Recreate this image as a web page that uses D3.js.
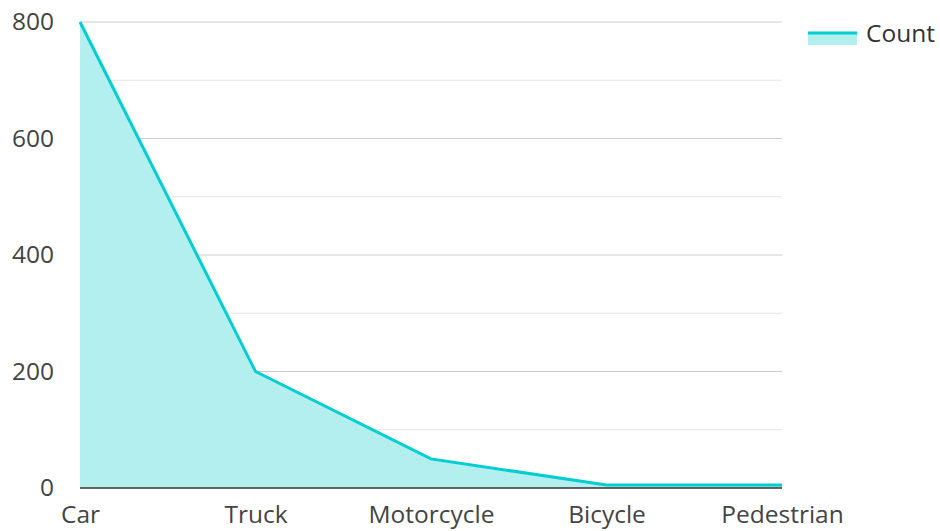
<!DOCTYPE html>
<html>
<head>
<meta charset="utf-8">
<script src="https://cdn.jsdelivr.net/npm/d3@7"></script>
<style>
  body { margin: 0; background: #fff; }
  text { font-family: "Open Sans", sans-serif; }
</style>
</head>
<body>
<div id="viz_area"></div>
<script>
var width = 940
var height = 531

var margin = { top: 22, right: 158, bottom: 43, left: 80 }

var categories = ["Car", "Truck", "Motorcycle", "Bicycle", "Pedestrian"]
var counts = [800, 200, 50, 5, 5]
var majorTicks = [0, 200, 400, 600, 800]
var minorTicks = [100, 300, 500, 700]
var seriesName = "Count"

var lineColor = "#00ced1"
var fillColor = "#b2efee"
var fontSize = "24.5px"

var svg = d3.select("#viz_area")
  .append("svg")
  .attr("width", width)
  .attr("height", height)
  .style("background-color", "white")

var scX = d3.scalePoint()
  .domain(categories)
  .range([margin.left, width - margin.right])

var scY = d3.scaleLinear()
  .domain([0, 800])
  .range([height - margin.bottom, margin.top])

// grid lines
svg.append("g")
  .selectAll("line")
  .data(minorTicks)
  .enter().append("line")
  .attr("x1", margin.left)
  .attr("x2", width - margin.right)
  .attr("y1", d => scY(d))
  .attr("y2", d => scY(d))
  .attr("stroke", "#e6e6e6")
  .attr("stroke-width", 1)

svg.append("g")
  .selectAll("line")
  .data(majorTicks.filter(d => d > 0))
  .enter().append("line")
  .attr("x1", margin.left)
  .attr("x2", width - margin.right)
  .attr("y1", d => scY(d))
  .attr("y2", d => scY(d))
  .attr("stroke", "#cccccc")
  .attr("stroke-width", 1)

var data = categories.map((c, i) => ({ cat: c, value: counts[i] }))

var area = d3.area()
  .x(d => scX(d.cat))
  .y0(scY(0))
  .y1(d => scY(d.value))

var line = d3.line()
  .x(d => scX(d.cat))
  .y(d => scY(d.value))

svg.append("path")
  .attr("d", area(data))
  .attr("fill", fillColor)

svg.append("path")
  .attr("d", line(data))
  .attr("fill", "none")
  .attr("stroke", lineColor)
  .attr("stroke-width", 3)

// x axis baseline
svg.append("line")
  .attr("x1", margin.left)
  .attr("x2", width - margin.right)
  .attr("y1", scY(0))
  .attr("y2", scY(0))
  .attr("stroke", "#333")
  .attr("stroke-width", 1.5)

// y axis labels
svg.append("g")
  .attr("transform", `translate(${margin.left - 26},0)`)
  .call(d3.axisLeft(scY).tickValues(majorTicks).tickSize(0).tickPadding(0))
  .call(g => g.select(".domain").remove())
  .call(g => g.selectAll("text")
    .attr("fill", "#444")
    .style("font-size", fontSize)
    .style("font-family", "'Open Sans', sans-serif"))

// x axis labels
svg.append("g")
  .attr("transform", `translate(0,${scY(0) + 18})`)
  .call(d3.axisBottom(scX).tickSize(0).tickPadding(0))
  .call(g => g.select(".domain").remove())
  .call(g => g.selectAll("text")
    .attr("fill", "#444")
    .style("font-size", fontSize)
    .style("font-family", "'Open Sans', sans-serif"))

// legend
var legend = svg.append("g")
  .attr("transform", "translate(808,33)")

legend.append("rect")
  .attr("x", 0)
  .attr("y", 0)
  .attr("width", 49)
  .attr("height", 12)
  .attr("fill", fillColor)

legend.append("line")
  .attr("x1", 0)
  .attr("x2", 49)
  .attr("y1", 0)
  .attr("y2", 0)
  .attr("stroke", lineColor)
  .attr("stroke-width", 3)

legend.append("text")
  .attr("x", 58)
  .attr("y", 0)
  .attr("dy", "0.35em")
  .attr("fill", "#333")
  .style("font-size", fontSize)
  .text(seriesName)
</script>
</body>
</html>
